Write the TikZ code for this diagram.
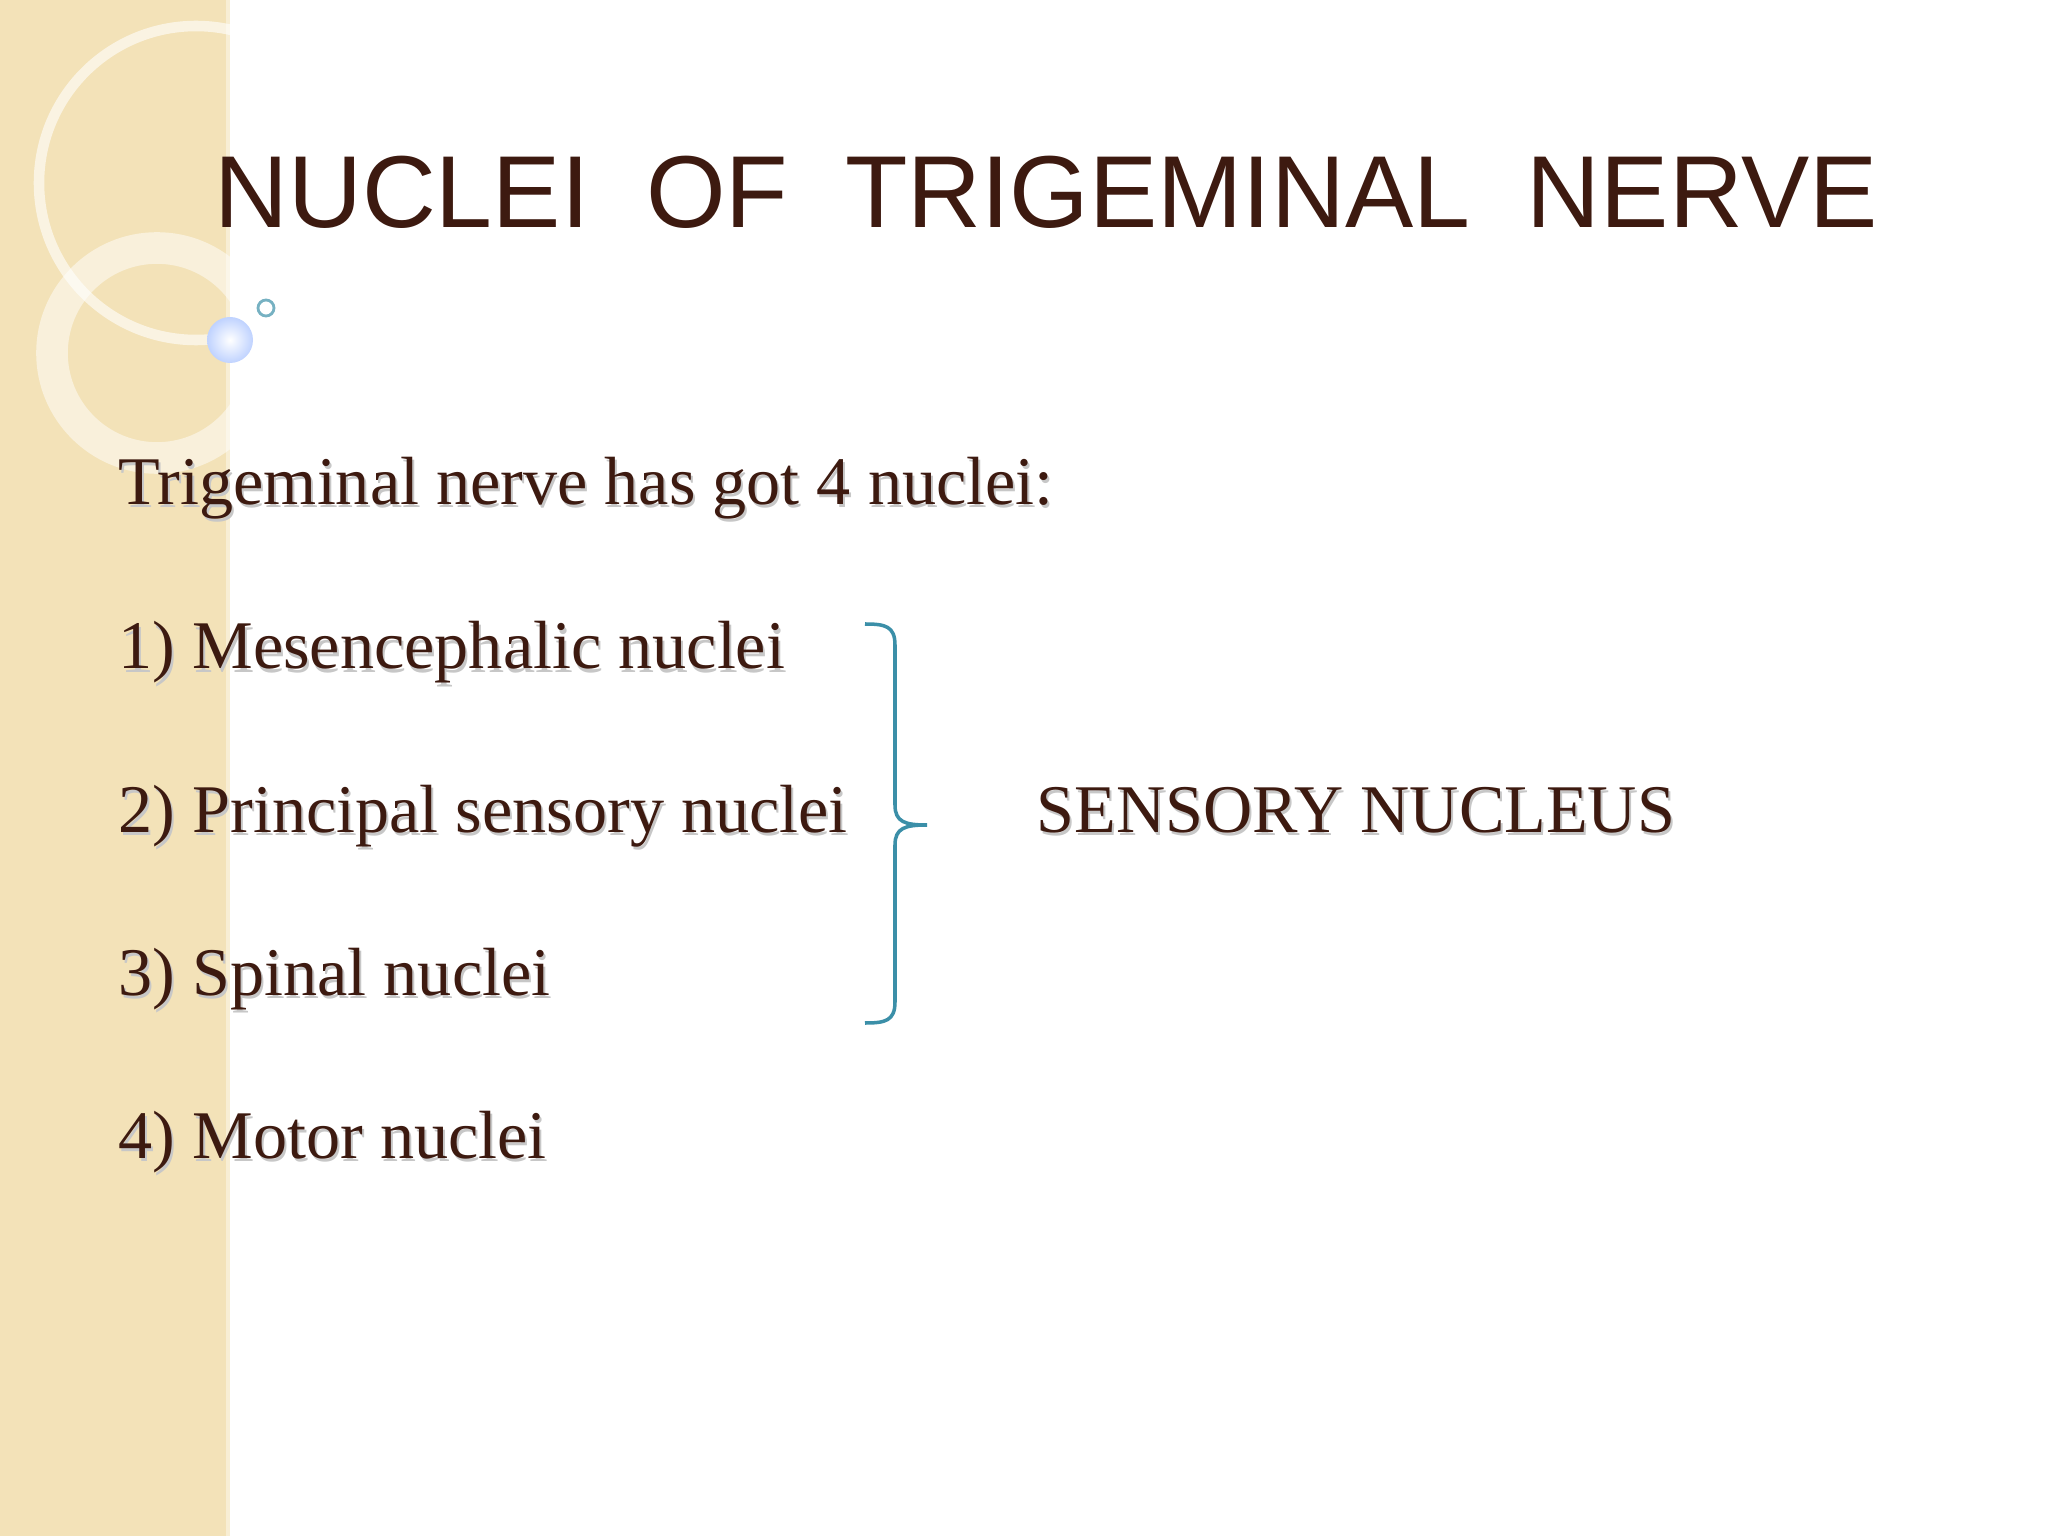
\documentclass[tikz,border=0pt]{standalone}
\usepackage{fontspec}
\setmainfont{Liberation Serif}
\newfontfamily\titlefont{Liberation Sans}
\definecolor{band}{HTML}{F3E2B8}
\definecolor{txt}{HTML}{3D1A10}
\definecolor{teal}{HTML}{3B8FA8}
\begin{document}
\begin{tikzpicture}[x=1cm,y=-1cm,
  body/.style={anchor=base west,text=txt,font=\fontsize{19.4}{23}\selectfont,inner sep=0pt},
  bshadow/.style={anchor=base west,text=black!22,font=\fontsize{19.4}{23}\selectfont,inner sep=0pt}]
\useasboundingbox (0,0) rectangle (20.48,15.36);
\fill[white] (0,0) rectangle (20.48,15.36);
\fill[band] (0,0) rectangle (2.26,15.36);
\fill[band!60!white] (2.26,0) rectangle (2.30,15.36);
\begin{scope}
\clip (0,0) rectangle (2.35,5.0);
\draw[white,opacity=0.6,line width=3pt] (1.96,1.83) circle (1.57);
\draw[white,opacity=0.5,line width=9pt] (1.57,3.53) circle (1.05);
\end{scope}
\shade[inner color=white,outer color=cyan!30!blue!25] (2.30,3.40) circle (0.23);
\draw[teal!70,line width=0.8pt] (2.66,3.08) circle (0.08);
\node[anchor=center,text=txt,font=\titlefont\fontsize{29.1}{34}\selectfont] (title) at (10.46,1.92) {NUCLEI\ \ OF\ \ TRIGEMINAL\ \ NERVE};
\foreach \t/\y/\n in {Trigeminal nerve has got 4 nuclei:/5.05/l0,1) Mesencephalic nuclei/6.69/l1,2) Principal sensory nuclei/8.32/l2,3) Spinal nuclei/9.95/l3,4) Motor nuclei/11.58/l4}{
  \node[bshadow] at (1.20,\y+0.03) {\t};
  \node[body] (\n) at (1.18,\y) {\t};
}
\node[bshadow] at (10.38,8.35) {SENSORY NUCLEUS};
\node[body] (sn) at (10.36,8.32) {SENSORY NUCLEUS};
\coordinate (bt) at (8.65,6.24);
\coordinate (bb) at (8.65,10.23);
\coordinate (tip) at (9.27,8.25);
\draw[teal,line width=1pt] (bt) .. controls (8.85,6.24) and (8.95,6.26) .. (8.95,6.45) -- (8.95,8.05) .. controls (8.95,8.22) and (9.05,8.25) .. (tip)
  (tip) .. controls (9.05,8.25) and (8.95,8.28) .. (8.95,8.45) -- (8.95,10.02) .. controls (8.95,10.21) and (8.85,10.23) .. (bb);
\end{tikzpicture}
\end{document}
